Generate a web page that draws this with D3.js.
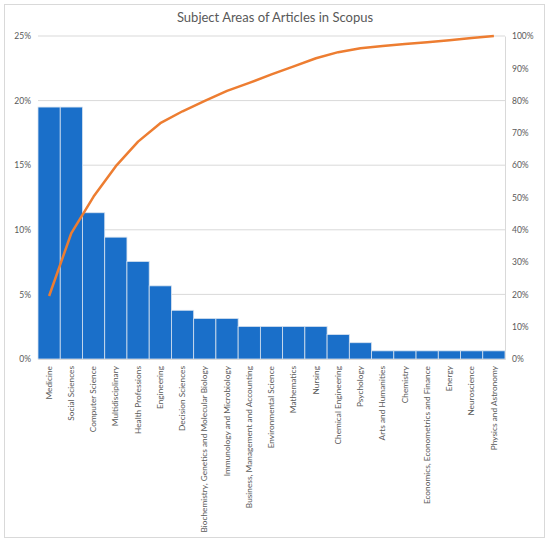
<!DOCTYPE html>
<html>
<head>
<meta charset="utf-8">
<script src="https://cdn.jsdelivr.net/npm/d3@7"></script>
<style>
  body { margin: 0; background: #ffffff; }
  text { font-family: Lato, "Open Sans", sans-serif; fill: #595959; }
</style>
</head>
<body>
<div id="chart"></div>
<script>
// Subject areas, sorted by share of articles
const subjects = [
    "Medicine", "Social Sciences", "Computer Science", "Multidisciplinary",
    "Health Professions", "Engineering", "Decision Sciences",
    "Biochemistry, Genetics and Molecular Biology", "Immunology and Microbiology",
    "Business, Management and Accounting", "Environmental Science", "Mathematics",
    "Nursing", "Chemical Engineering", "Psychology", "Arts and Humanities",
    "Chemistry", "Economics, Econometrics and Finance", "Energy", "Neuroscience",
    "Physics and Astronomy"
];
// share of articles (%), left axis
const shares = [19.5, 19.5, 11.32, 9.43, 7.55, 5.66, 3.77, 3.14, 3.14, 2.52, 2.52,
    2.52, 2.52, 1.89, 1.26, 0.63, 0.63, 0.63, 0.63, 0.63, 0.63];
// cumulative share (%), right axis
const cumulative = [19.5, 39.0, 50.3, 59.7, 67.3, 73.0, 76.7, 79.9, 83.0, 85.5, 88.1,
    90.6, 93.1, 95.0, 96.2, 96.9, 97.5, 98.1, 98.7, 99.4, 100];
const leftTicks = [0, 5, 10, 15, 20, 25];
const rightTicks = [0, 10, 20, 30, 40, 50, 60, 70, 80, 90, 100];

const W = 550, H = 544;
const margin = {top: 36, right: 45, bottom: 185, left: 38};
const width = W - margin.left - margin.right,
    height = H - margin.top - margin.bottom;

const svgRoot = d3.select("#chart")
    .append("svg")
    .attr("width", W)
    .attr("height", H);

// chart frame
svgRoot.append("rect")
    .attr("x", 4.5).attr("y", 4.5)
    .attr("width", 540).attr("height", 533)
    .attr("fill", "#fff")
    .attr("stroke", "#d9d9d9");

svgRoot.append("text")
    .attr("x", 275)
    .attr("y", 22)
    .attr("text-anchor", "middle")
    .style("font-size", "13px")
    .text("Subject Areas of Articles in Scopus");

const svg = svgRoot.append("g")
    .attr("transform", `translate(${margin.left}, ${margin.top})`);

const x = d3.scaleBand()
    .domain(subjects)
    .range([0, width])
    .padding(0);

const y = d3.scaleLinear().domain([0, 25]).range([height, 0]);
const y2 = d3.scaleLinear().domain([0, 100]).range([height, 0]);

// gridlines
svg.append("g")
    .selectAll("line")
    .data(leftTicks)
    .join("line")
    .attr("x1", 0).attr("x2", width)
    .attr("y1", d => y(d)).attr("y2", d => y(d))
    .attr("stroke", "#d9d9d9")
    .attr("stroke-width", 1);

// left axis
const leftAxis = svg.append("g")
    .call(d3.axisLeft(y).tickValues(leftTicks).tickSize(0).tickPadding(7).tickFormat(d => d + "%"));
leftAxis.select(".domain").remove();
leftAxis.selectAll("text").style("font-size", "8.5px").style("font-family", "Lato, sans-serif");

// right axis
const rightAxis = svg.append("g")
    .attr("transform", `translate(${width}, 0)`)
    .call(d3.axisRight(y2).tickValues(rightTicks).tickSize(0).tickPadding(7).tickFormat(d => d + "%"));
rightAxis.select(".domain").attr("stroke", "#d9d9d9");
rightAxis.selectAll("text").style("font-size", "8.5px").style("font-family", "Lato, sans-serif");

// bars
svg.selectAll(".bar")
    .data(subjects)
    .join("rect")
    .attr("class", "bar")
    .attr("x", d => x(d))
    .attr("y", (d, i) => y(shares[i]))
    .attr("width", x.bandwidth())
    .attr("height", (d, i) => height - y(shares[i]))
    .style("fill", "#1a6fc9")
    .style("stroke", "#d6e2ef")
    .style("stroke-width", 0.8);

// bottom axis with rotated labels
const bottomAxis = svg.append("g")
    .attr("transform", `translate(0, ${height})`)
    .call(d3.axisBottom(x).tickSize(0).tickPadding(0));
bottomAxis.select(".domain").attr("stroke", "#d9d9d9");
bottomAxis.selectAll("text")
    .attr("transform", "rotate(-90)")
    .attr("x", -7)
    .attr("y", 0)
    .attr("dy", "0.32em")
    .attr("text-anchor", "end")
    .style("font-size", "8.3px")
    .style("font-family", "Lato, sans-serif");

// cumulative line
const line = d3.line()
    .x((d, i) => x(subjects[i]) + x.bandwidth() / 2)
    .y(d => y2(d));

svg.append("path")
    .datum(cumulative)
    .attr("d", line)
    .attr("fill", "none")
    .attr("stroke", "#ed7d31")
    .attr("stroke-width", 2.5)
    .attr("stroke-linejoin", "round");
</script>
</body>
</html>
